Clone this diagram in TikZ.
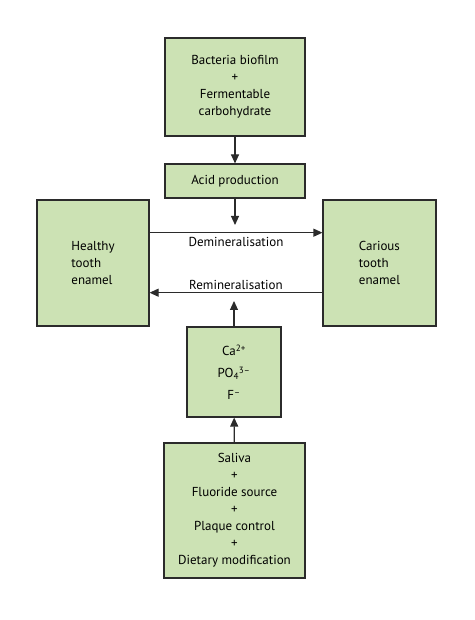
\documentclass[tikz,border=0pt]{standalone}
\usepackage{fontspec}
\setmainfont{PT Sans}
\usetikzlibrary{arrows.meta}
\definecolor{boxgreen}{HTML}{CCE2B4}
\definecolor{linegray}{HTML}{2B2B2B}

\begin{document}
\begin{tikzpicture}[x=1pt, y=1pt,
    box/.style={draw=linegray, line width=1.1pt, fill=boxgreen, inner sep=0pt,
                align=center, font=\fontsize{13}{17}\selectfont},
    flow/.style={draw=linegray, line width=1.1pt, -{Triangle[length=9pt, width=8pt]}},
    lbl/.style={font=\fontsize{13}{15}\selectfont}]
  \useasboundingbox (0, 0) rectangle (474, 620);

  % boxes along the middle
  \node[box, minimum width=140, minimum height=98] (bact) at (235, 533)
       {Bacteria biofilm\\+\\Fermentable\\carbohydrate};
  \node[box, minimum width=140, minimum height=34] (acid) at (235, 439)
       {Acid production};
  \node[box, minimum width=94, minimum height=90,
        font=\fontsize{13}{22}\selectfont] (ions) at (234, 248)
       {Ca\textsuperscript{2+}\\PO\textsubscript{4}\textsuperscript{3–}\\F\textsuperscript{–}};
  \node[box, minimum width=141, minimum height=135] (saliva) at (234.5, 109.5)
       {Saliva\\+\\Fluoride source\\+\\Plaque control\\+\\Dietary modification};

  % enamel boxes
  \node[box, minimum width=112, minimum height=126, align=left] (healthy) at (93, 357)
       {Healthy\\tooth\\enamel};
  \node[box, minimum width=113, minimum height=126, align=left] (carious) at (379.5, 357)
       {Carious\\tooth\\enamel};

  \coordinate (demin) at (235, 395);
  \coordinate (remin) at (234, 319);

  % vertical arrows
  \draw[flow] (bact) -- (acid);
  \draw[flow] (acid) -- (demin);
  \draw[flow] (saliva) -- (ions);
  \draw[flow] (ions) -- (remin);

  % de- and remineralisation
  \draw[flow] (healthy.east |- 0, 387.3) -- node[lbl, below, inner sep=4pt]{Demineralisation}
              (carious.west |- 0, 387.3);
  \draw[flow] (carious.west |- 0, 327.3) -- node[lbl, above, inner sep=2pt]{Remineralisation}
              (healthy.east |- 0, 327.3);
\end{tikzpicture}
\end{document}
